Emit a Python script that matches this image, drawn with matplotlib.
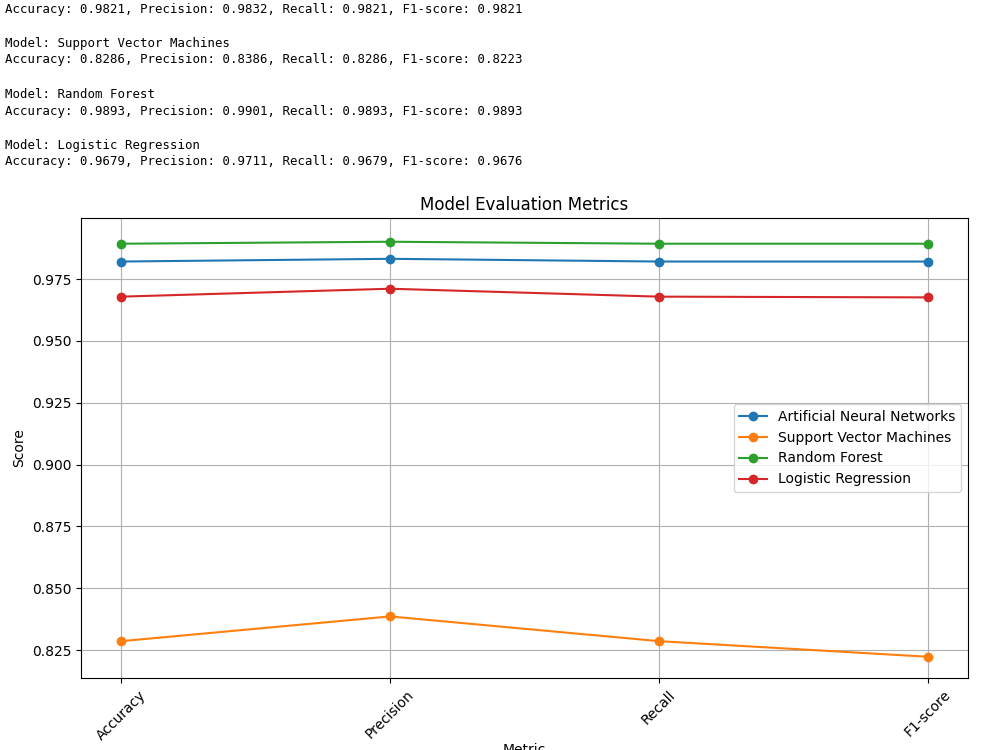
import matplotlib
matplotlib.use("Agg")
import matplotlib.pyplot as plt

metrics = ["Accuracy", "Precision", "Recall", "F1-score"]
models = ["Artificial Neural Networks", "Support Vector Machines", "Random Forest", "Logistic Regression"]
ann = [0.9821, 0.9832, 0.9821, 0.9821]
svm = [0.8286, 0.8386, 0.8286, 0.8223]
rf = [0.9893, 0.9901, 0.9893, 0.9893]
lr = [0.9679, 0.9711, 0.9679, 0.9676]
series = [ann, svm, rf, lr]

fig = plt.figure(figsize=(10, 7.5), dpi=100)
lines = [
    (9, "Accuracy: 0.9821, Precision: 0.9832, Recall: 0.9821, F1-score: 0.9821"),
    (43, "Model: Support Vector Machines"),
    (60, "Accuracy: 0.8286, Precision: 0.8386, Recall: 0.8286, F1-score: 0.8223"),
    (94, "Model: Random Forest"),
    (111, "Accuracy: 0.9893, Precision: 0.9901, Recall: 0.9893, F1-score: 0.9893"),
    (145, "Model: Logistic Regression"),
    (162, "Accuracy: 0.9679, Precision: 0.9711, Recall: 0.9679, F1-score: 0.9676"),
]
for y, t in lines:
    fig.text(5/1000, 1 - y/750, t, family="DejaVu Sans Mono", fontsize=8.9, va="center", ha="left")

ax = fig.add_axes([81/1000, 1 - 678/750, (968-81)/1000, (678-218)/750])
for name, vals in zip(models, series):
    ax.plot(metrics, vals, marker="o", label=name)
ax.set_title("Model Evaluation Metrics")
ax.set_ylabel("Score")
ax.set_xlabel("Metric", labelpad=0)
ax.set_ylim(0.8137, 0.9997)
ax.set_yticks([0.825, 0.85, 0.875, 0.9, 0.925, 0.95, 0.975])
ax.grid(True)
ax.legend(loc="center right")
plt.setp(ax.get_xticklabels(), rotation=45)
fig.savefig("out.png", dpi=100)
